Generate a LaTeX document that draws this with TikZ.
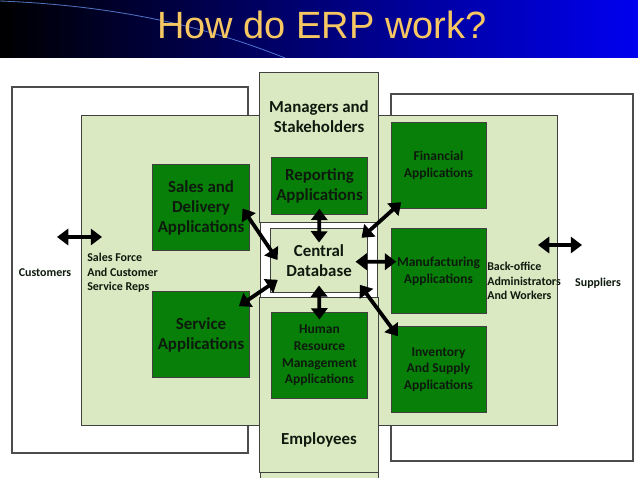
\documentclass[tikz,border=0pt]{standalone}
\usepackage{fontspec}
\setmainfont{Carlito}
\newfontfamily\headfont{Liberation Sans}
\usepackage{tikz}
\usetikzlibrary{positioning,arrows.meta}
\definecolor{pale}{HTML}{DBE9C3}
\definecolor{leaf}{HTML}{087F08}
\definecolor{gold}{HTML}{F7C862}
\definecolor{ink}{HTML}{0D1A0D}
\definecolor{deepblue}{HTML}{0000F0}
\definecolor{sky}{HTML}{6FA0FF}
\tikzset{
  outer/.style={draw=black!70, line width=0.9pt, fill=white, inner sep=0pt},
  panel/.style={draw=black!75, line width=0.7pt, fill=pale, inner sep=0pt},
  db/.style   ={draw=black!75, line width=0.7pt, fill=pale, inner sep=0pt, text=ink, align=center, font=\bfseries\fontsize{12}{14.2}\selectfont},
  app/.style  ={draw=black!75, line width=0.7pt, fill=leaf, inner sep=0pt, text=ink, align=center, font=\bfseries\fontsize{12}{14.2}\selectfont},
  appsm/.style={draw=black!75, line width=0.7pt, fill=leaf, inner sep=0pt, text=ink, align=center, font=\bfseries\fontsize{9.6}{11.9}\selectfont},
  head/.style ={inner sep=0pt, align=center, text=ink, font=\bfseries\fontsize{12}{14.2}\selectfont},
  side/.style ={inner sep=0pt, text=ink, font=\bfseries\fontsize{8.5}{10.3}\selectfont},
  link/.style ={{Triangle[length=8pt,width=11.5pt]}-{Triangle[length=8pt,width=11.5pt]}, line width=2.7pt, black},
}

\begin{document}
\begin{tikzpicture}[x=0.025cm, y=-0.025cm]
  \useasboundingbox (0,0) rectangle (638,478);
  \clip (0,0) rectangle (638,478);

  % title bar
  \shade[left color=black, right color=deepblue] (0,0) rectangle (638,58);
  \draw[sky, opacity=0.7, line width=0.6pt] (0,1) .. controls (130,6) and (220,32) .. (285,58);
  \node[font=\headfont\fontsize{27}{31}\selectfont, text=gold] (title) at (322,25) {How do ERP work?};

  % outer boxes
  \node[outer, minimum width=5.9cm, minimum height=9.15cm] (cust) at (130,270) {};
  \node[outer, minimum width=6.05cm, minimum height=9.175cm] (supp) at (512,277.5) {};

  % panels
  \node[panel, minimum width=4.45cm, minimum height=7.725cm] (lpanel) at (171,270.5) {};
  \node[panel, minimum width=4.475cm, minimum height=7.725cm] (rpanel) at (467.5,270.5) {};
  \node[panel, minimum width=2.95cm, minimum height=3.725cm] (mgrs) at (319,147.5) {};
  \node[panel, minimum width=2.95cm, minimum height=4.35cm] (emps) at (319,385) {};
  \draw[panel] (260,472) rectangle (378,492);

  % applications
  \node[db, minimum width=2.4cm, minimum height=1.575cm] (cdb) at (319,260.5) {Central\\Database};
  \node[app, minimum width=2.4cm, minimum height=2.125cm] (sales) at (201,207.5) {Sales and\\Delivery\\Applications};
  \node[app, minimum width=2.4cm, minimum height=2.125cm] (service) at (201,334.5) {Service\\Applications};
  \node[app, minimum width=2.375cm, minimum height=1.4cm] (report) at (319.5,186) {Reporting\\Applications};
  \node[appsm, minimum width=2.375cm, minimum height=2.125cm] (hr) at (319.5,355.5) {Human\\Resource\\Management\\Applications};
  \node[appsm, minimum width=2.375cm, minimum height=2.125cm] (fin) at (438.5,165.5) {Financial\\Applications};
  \node[appsm, minimum width=2.375cm, minimum height=2.1cm] (manuf) at (438.5,271) {Manufacturing\\Applications};
  \node[appsm, minimum width=2.375cm, minimum height=2.125cm] (inv) at (438.5,369.5) {Inventory\\And Supply\\Applications};

  % labels
  \node[head] (mgrstxt) at (319,117) {Managers and\\Stakeholders};
  \node[head] (empstxt) at (319,440) {Employees};
  \node[side] (custtxt) at (45,273) {Customers};
  \node[side, anchor=west, align=left] (salesforce) at (87,273) {Sales Force\\And Customer\\Service Reps};
  \node[side, anchor=west, align=left] (backoffice) at (487,281) {Back-office\\Administrators\\And Workers};
  \node[side] (supptxt) at (598,283) {Suppliers};

  % connectors
  \coordinate (custL) at (57,237);
  \coordinate (custR) at (102,237);
  \coordinate (suppL) at (538,245);
  \coordinate (suppR) at (582,245);
  \draw[link] (custL) -- (custR);
  \draw[link] (suppL) -- (suppR);
  \draw[link] ([shift={(-7,1)}]sales.east) -- ([shift={(7,-0.5)}]cdb.west);
  \draw[link] ([shift={(-10.7,14.7)}]service.north east) -- ([shift={(7.3,-12.7)}]cdb.south west);
  \draw[link] ([shift={(0,-5.7)}]report.south) -- ([shift={(0,14)}]cdb.north);
  \draw[link] ([shift={(0,-7)}]cdb.south) -- ([shift={(0,7)}]hr.north);
  \draw[link] ([shift={(-6,9.3)}]cdb.north east) -- ([shift={(10.7,-6.3)}]fin.south west);
  \draw[link] ([shift={(-12,1.2)}]cdb.east) -- ([shift={(5.7,-9.3)}]manuf.west);
  \draw[link] ([shift={(-7.7,-7.7)}]cdb.south east) -- ([shift={(7.3,9.7)}]inv.north west);
\end{tikzpicture}
\end{document}
